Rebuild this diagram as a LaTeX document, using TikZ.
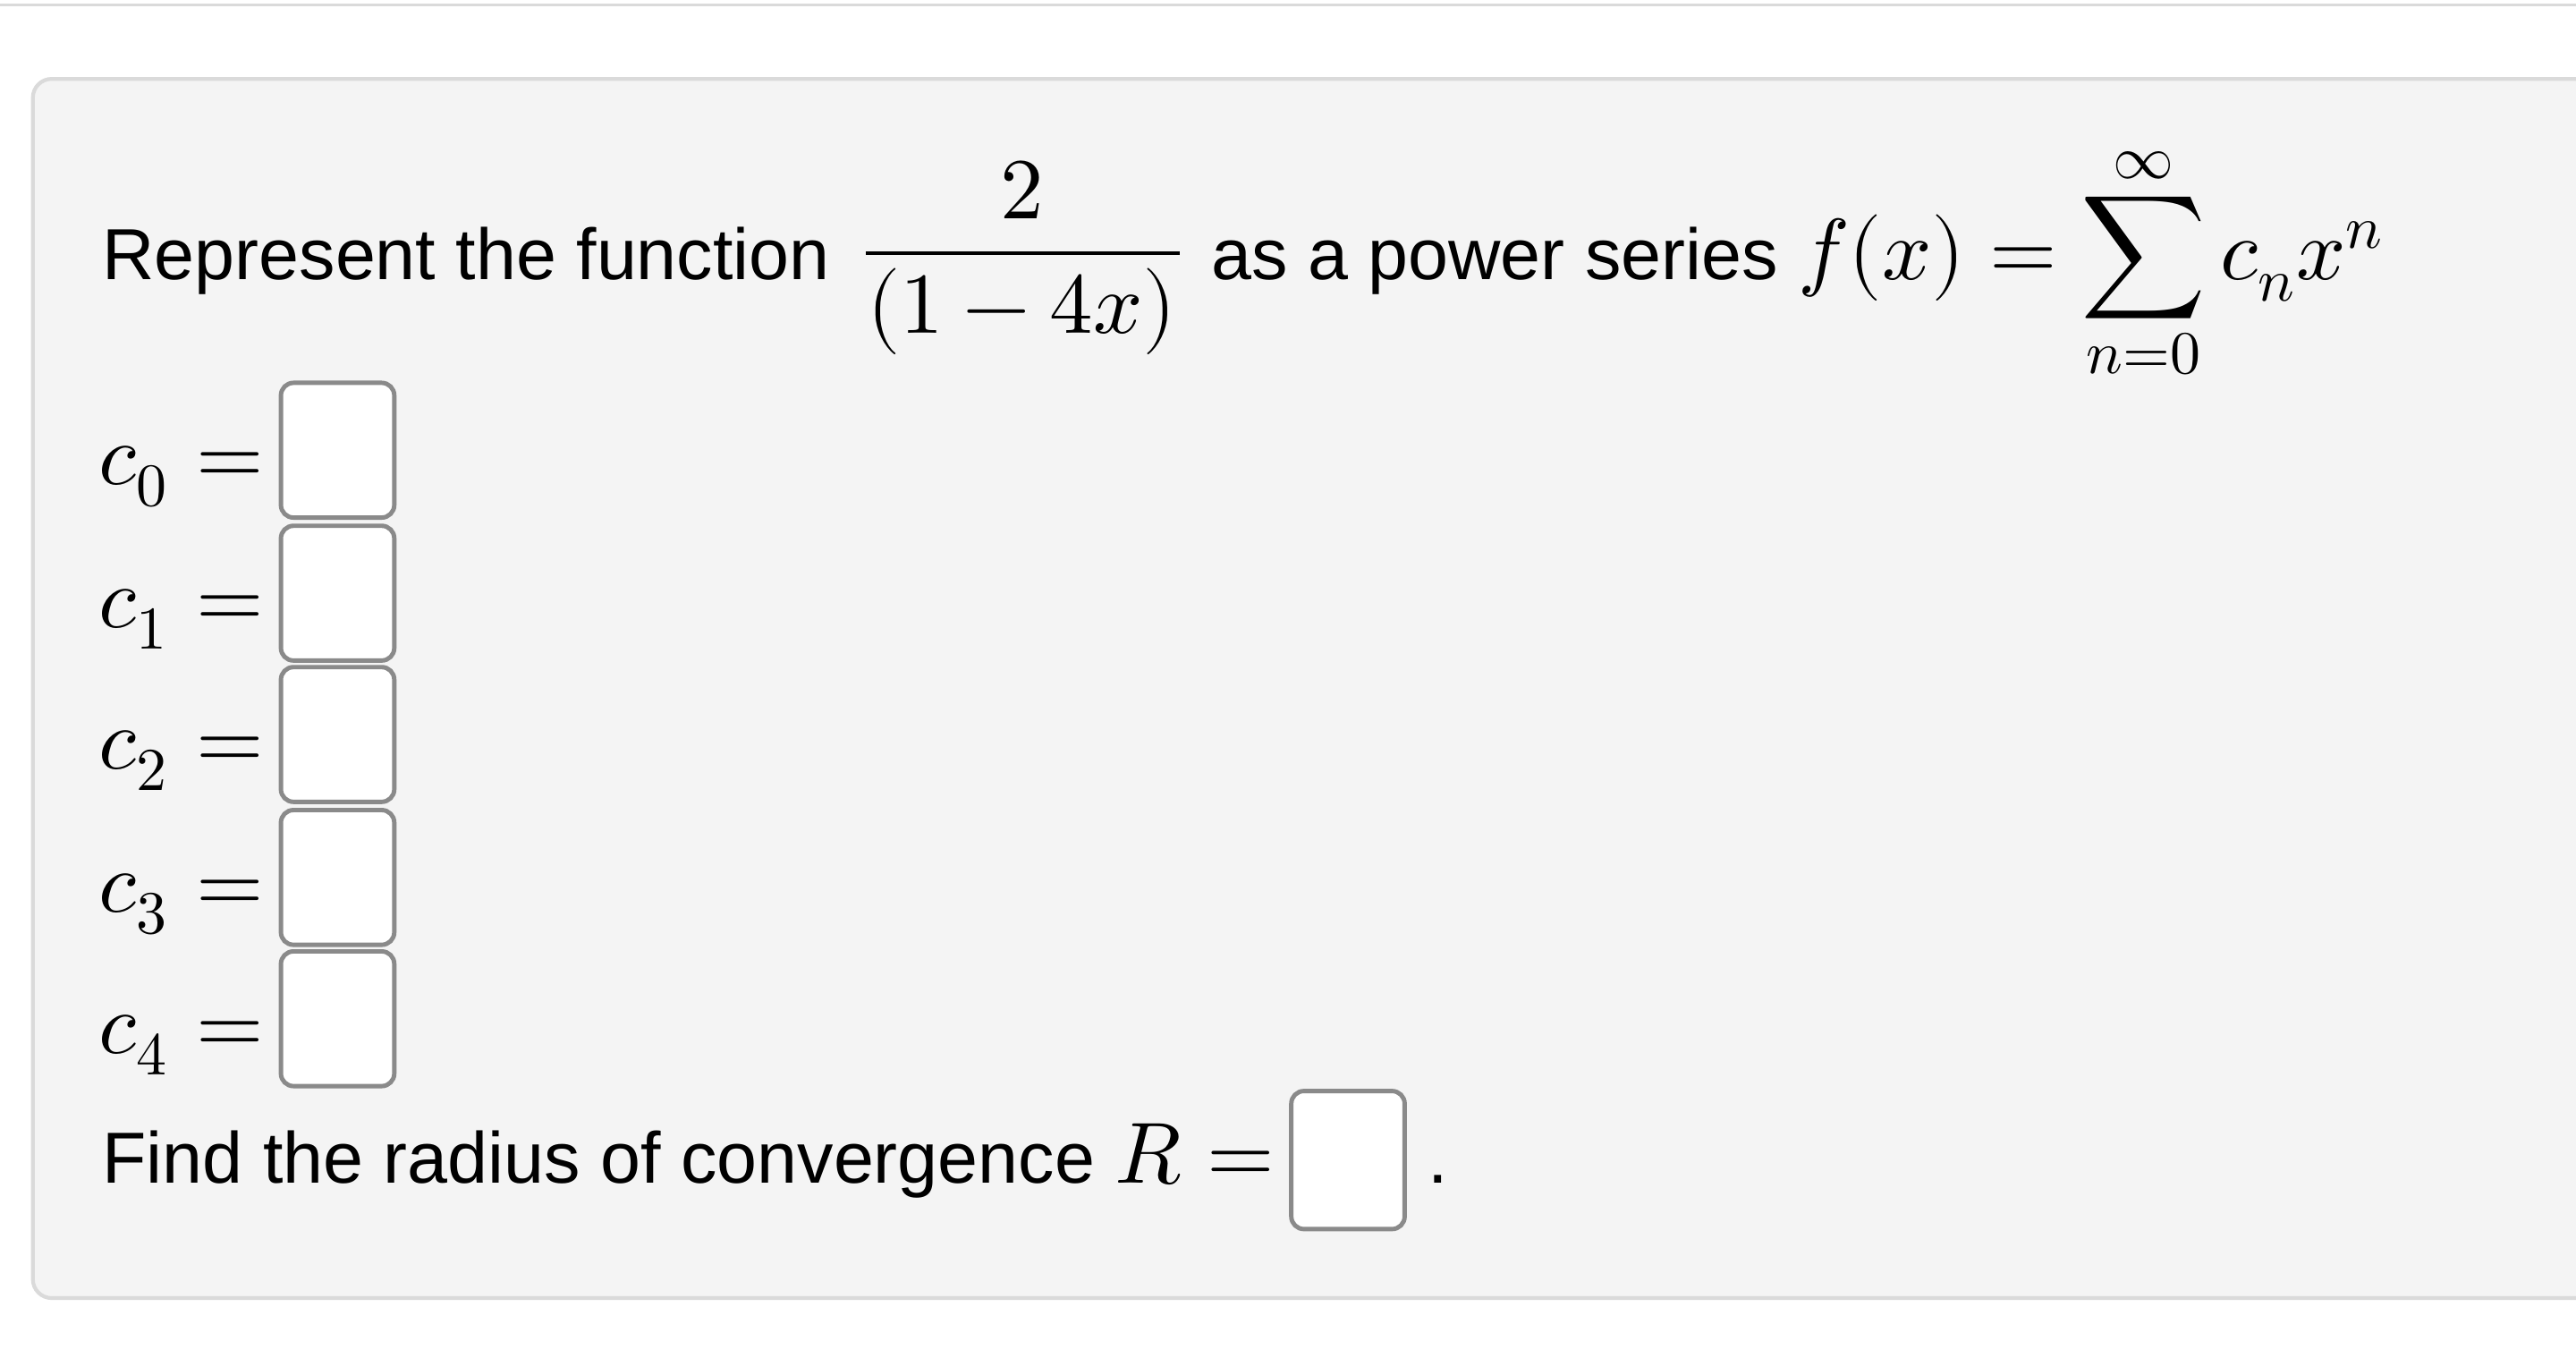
\documentclass[tikz,border=0pt]{standalone}
\usepackage{fontspec}
\setmainfont{Liberation Sans}
\usepackage{amsmath}
\usepackage{unicode-math}
\setmathfont{Latin Modern Math}[Scale=1.2]
\definecolor{panel}{HTML}{F4F4F4}
\definecolor{panelborder}{HTML}{DADADA}
\definecolor{boxborder}{HTML}{8A8A8A}
\begin{document}
\begin{tikzpicture}[x=0.01837cm,y=-0.01837cm,
  txt/.style={inner sep=0pt,anchor=base west,font=\fontsize{23}{27}\selectfont},
  ansbox/.style={draw=boxborder,fill=white,line width=1.4pt,rounded corners=4pt}]
\useasboundingbox (0,0) rectangle (1568,826);
\fill[white] (0,0) rectangle (1568,826);
\draw[panelborder,line width=0.6pt] (0,3) -- (1568,3);
\draw[panelborder,fill=panel,line width=1.2pt,rounded corners=6pt] (20,48) rectangle (1600,790);
\node[txt] (q) at (62,170) {Represent the function};
\node[inner sep=0pt,anchor=base,font=\fontsize{23}{27}\selectfont] (num) at (622,133) {$2$};
\node[inner sep=0pt,anchor=base,font=\fontsize{23}{27}\selectfont] (den) at (622,203) {$(1-4x)$};
\draw[line width=1pt] (527,154) -- (718,154);
\node[txt] (ps) at (737,170) {as a power series $f(x)=\displaystyle\sum_{n=0}^{\infty} c_n x^n$};
\foreach \i/\y in {0/280,1/367,2/453,3/540,4/626}{
  \node[txt] (c\i) at (60,\y+15) {$c_{\i}$};
  \node[txt] (e\i) at (119,\y+15) {$=$};
  \draw[ansbox] (171,\y-47) rectangle (240,\y+35);
}
\node[txt] (find) at (62,720) {Find the radius of convergence $R=$};
\draw[ansbox] (786,664) rectangle (855,748);
\node[txt] (dot) at (869,720) {.};
\end{tikzpicture}
\end{document}
